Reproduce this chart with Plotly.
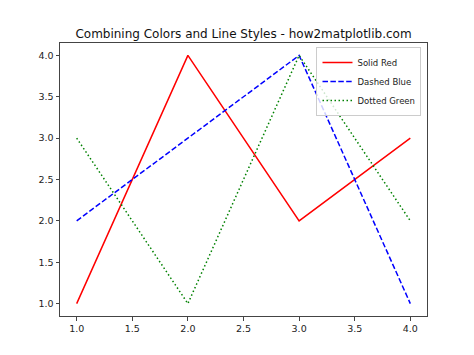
import plotly.graph_objects as go

x = [1, 2, 3, 4]
red_vals = [1, 4, 2, 3]
blue_vals = [2, 3, 4, 1]
green_vals = [3, 1, 4, 2]
names = ["Solid Red", "Dashed Blue", "Dotted Green"]
tick_vals = [1.0, 1.5, 2.0, 2.5, 3.0, 3.5, 4.0]
tick_text = [f"{v:.1f}" for v in tick_vals]

fig = go.Figure()
fig.add_trace(go.Scatter(x=x, y=red_vals, mode="lines", name=names[0],
                         line=dict(color="red", width=1.5)))
fig.add_trace(go.Scatter(x=x, y=blue_vals, mode="lines", name=names[1],
                         line=dict(color="blue", width=1.5, dash="5.5px,2.4px")))
fig.add_trace(go.Scatter(x=x, y=green_vals, mode="lines", name=names[2],
                         line=dict(color="green", width=1.5, dash="1.5px,2.5px")))

axis_common = dict(showgrid=False, zeroline=False, showline=True, linecolor="#444",
                   linewidth=1, mirror=True, ticks="outside", ticklen=3.5,
                   tickcolor="#444", tickfont=dict(size=9.5, color="#222"),
                   tickvals=tick_vals, ticktext=tick_text, range=[0.85, 4.15])

fig.update_layout(
    width=474, height=355,
    margin=dict(l=60, r=47, t=43, b=39),
    paper_bgcolor="white", plot_bgcolor="white",
    font=dict(family="DejaVu Sans", color="#222"),
    title=dict(text="Combining Colors and Line Styles - how2matplotlib.com",
               x=0.5, xanchor="center", xref="paper", y=1, yref="paper",
               yanchor="bottom", pad=dict(b=5), font=dict(size=12, color="#111")),
    xaxis=axis_common,
    yaxis=axis_common,
    legend=dict(x=0.985, y=0.985, xanchor="right", yanchor="top",
                bgcolor="rgba(255,255,255,0.8)", bordercolor="#ccc", borderwidth=1,
                font=dict(size=8.5, color="#222"), tracegroupgap=0,
                itemwidth=30),
    showlegend=True,
)

fig.write_html("out.html")
